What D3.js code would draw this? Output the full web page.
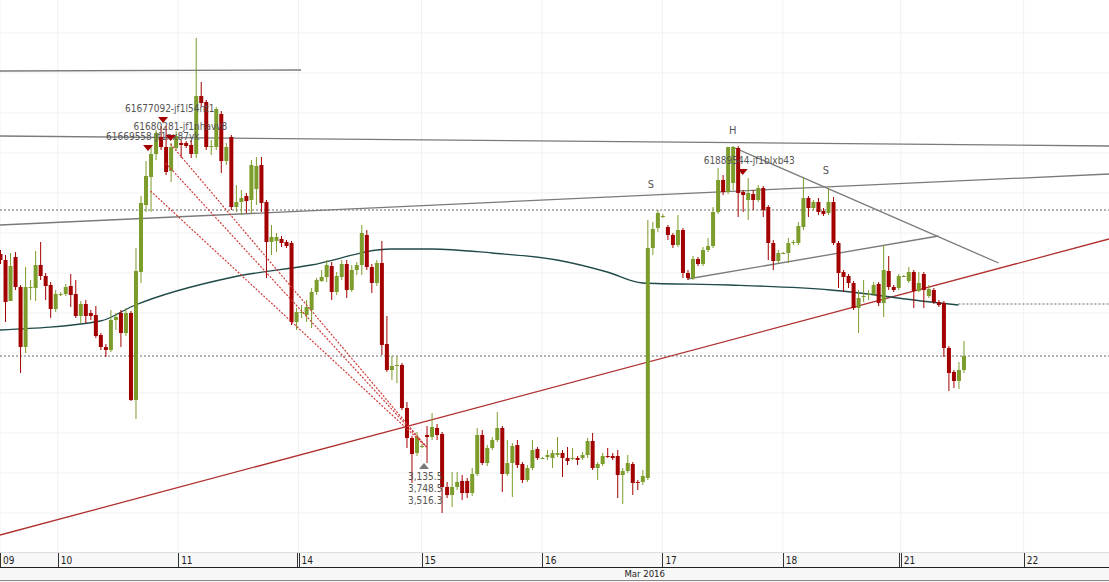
<!DOCTYPE html>
<html>
<head>
<meta charset="utf-8">
<script src="https://cdn.jsdelivr.net/npm/d3@7"></script>
<style>
  body { margin: 0; background: #fff; }
  svg { display: block; font-family: "DejaVu Sans Condensed", "DejaVu Sans", sans-serif; }
</style>
</head>
<body>
<div id="chart"></div>
<script>
// chart level units (inverted price scale), one candle per hour
// [open, close, high, low]
const candles = [
  [254,260,250,264],[260,302,255,322],[301,266,253,301],[257,287,252,290],[287,347,285,373],
  [347,287,267,353],[287,287,280,300],[288,265,251,301],[265,276,242,280],[276,286,273,300],
  [285,309,282,318],[309,294,290,312],[294,294,292,296],[294,287,284,296],[286,295,274,307],
  [294,316,280,318],[316,304,301,323],[304,316,300,323],[313,316,310,320],[315,336,306,338],
  [335,347,333,350],[347,350,344,357],[350,320,310,352],[320,317,313,330],[313,333,310,347],
  [333,313,308,336],[313,400,311,401],[400,271,248,419],[272,203,196,283],[205,176,161,212],
  [177,154,145,212],[154,133,130,160],[137,147,126,150],[147,172,126,175],[171,147,143,182],
  [148,136,131,150],[143,145,140,158],[143,146,141,148],[145,154,140,158],[154,96,38,158],
  [96,103,82,106],[102,147,100,150],[147,146,140,155],[147,109,107,150],[114,161,111,173],
  [161,147,143,165],[137,207,135,210],[207,202,185,212],[202,198,190,215],[196,201,193,213],
  [200,165,160,213],[189,166,157,205],[165,203,157,212],[202,242,200,278],[242,237,225,255],
  [241,237,233,252],[239,243,236,247],[242,246,240,248],[243,322,241,325],[322,312,308,330],
  [312,312,305,318],[315,307,300,322],[310,292,288,328],[292,280,278,295],[281,277,270,282],
  [277,265,260,282],[266,292,262,300],[292,276,272,295],[277,264,260,280],[264,290,260,298],
  [290,270,265,292],[270,265,262,275],[265,233,225,275],[235,267,230,270],[267,283,264,293],
  [283,263,260,286],[263,345,241,355],[344,370,316,372],[370,366,356,380],[366,365,356,383],
  [365,408,363,410],[408,438,402,448],[438,454,436,483],[453,437,432,456],[446,446,444,448],
  [435,437,426,463],[437,427,413,440],[428,435,424,440],[434,487,432,513],[487,495,482,498],
  [495,487,472,507],[487,482,472,490],[481,493,475,500],[481,493,478,498],[493,474,468,496],
  [474,435,428,476],[435,463,430,465],[463,448,445,466],[448,440,437,450],[440,428,412,442],
  [428,474,426,492],[474,463,440,476],[463,446,443,497],[445,465,440,468],[464,480,462,483],
  [480,468,465,482],[468,450,440,470],[449,458,447,460],[458,458,457,459],[457,455,450,460],
  [458,453,450,468],[455,453,437,457],[453,458,450,477],[458,461,447,465],[458,458,448,460],
  [458,460,456,465],[458,455,452,460],[455,441,438,458],[441,468,433,470],[468,464,462,480],
  [464,456,453,466],[456,457,448,458],[456,458,453,460],[456,475,450,498],[475,471,468,504],
  [471,463,455,473],[464,483,462,495],[482,483,480,490],[482,476,470,485],[478,248,220,480],
  [248,229,222,255],[228,213,210,232],[216,216,214,218],[227,235,225,240],[235,245,233,248],
  [245,230,215,247],[230,273,228,278],[273,278,270,280],[278,259,256,280],[259,264,257,266],
  [264,250,247,266],[250,246,238,252],[246,212,207,248],[212,180,168,214],[180,192,175,195],
  [192,147,147,194],[183,147,146,190],[148,193,146,217],[192,195,190,212],[200,193,178,220],
  [194,200,190,210],[200,188,185,202],[188,210,186,217],[207,243,205,260],[243,261,240,270],
  [261,253,250,263],[253,253,252,254],[253,243,238,263],[243,242,240,245],[243,226,222,245],
  [227,198,177,230],[198,208,196,217],[208,202,200,210],[202,212,198,215],[211,214,208,216],
  [213,202,188,215],[202,243,197,245],[243,273,241,288],[272,277,270,292],[276,283,274,288],
  [283,308,281,310],[308,298,290,333],[297,296,280,302],[294,294,290,300],[294,285,282,296],
  [284,303,282,306],[303,270,245,317],[271,287,256,290],[287,290,285,292],[288,276,274,290],
  [276,276,275,277],[281,272,267,283],[272,291,270,308],[291,283,272,292],[274,290,272,308],
  [296,289,285,298],[290,302,288,304],[302,305,300,307],[303,348,301,357],[348,373,346,391],
  [372,381,370,388],[381,370,362,389],[370,356,341,373]
];

// moving average knots [index, level]
const maIdx = [0, 20, 26.5, 46.5, 62, 78, 86, 98, 111, 121, 128, 145.5, 165.5, 185.5, 191];
const maVal = [330, 321, 306, 277, 265, 249, 249, 253, 260, 272, 283, 285, 290, 302, 305];

const dayLabels = ["09", "10", "11", "14", "15", "16", "17", "18", "21", "22"];
const dayIdx = [0, 11.5, 35.5, 59.5, 84, 108, 132, 156, 179.5, 204];
const weekBreaks = [59.5, 179.5];
const monthLabel = "Mar 2016";

// drawn objects: [[idx, level], [idx, level]]
const solidGray = [
  [[0, 71], [60, 70]],
  [[0, 136], [221, 146]],
  [[0, 225], [221, 174]],
  [[146, 147], [199, 263]],
  [[137, 279], [187, 236]]
];
const redTrend = [[0, 535], [221, 239]];
const dottedLevels = [[210, 0, 221], [356, 0, 221], [304, 191, 221]];
const redDotted = [
  [[30, 191], [85, 447]],
  [[33, 163], [85, 447]],
  [[34, 144], [85, 447]]
];
const orderMarks = [
  { i: 29.5, v: 148, label: "61669558-jf1nx87yk", dx: -42 },
  { i: 32.5, v: 120, label: "61677092-jf1l54nt1", dx: -38 },
  { i: 34, v: 138, label: "61680281-jf1nhavv8", dx: -37 },
  { i: 148, v: 172, label: "61889544-jf1blxb43", dx: -39 }
];
const fillMark = { i: 84.5, v: 466, lines: ["3,135.5", "3,748.5", "3,516.3"] };
const patternLabels = [["S", 129.7, 188], ["H", 146, 134], ["S", 164.6, 174]];

const W = 1109, H = 582, plotBottom = 553;
const x = d3.scaleLinear().domain([0, 221]).range([0, 1109]);
const y = d3.scaleLinear().domain([0, 582]).range([0, 582]);
const green = "#7c9c2c", red = "#a30000";

const svg = d3.select("#chart").append("svg").attr("width", W).attr("height", H);

// faint grid
svg.append("g").selectAll("line").data(d3.range(33, 553, 40)).join("line")
  .attr("x1", 0).attr("x2", W).attr("y1", d => y(d)).attr("y2", d => y(d))
  .attr("stroke", "#f1f1f1");
svg.append("g").selectAll("line").data(dayIdx).join("line")
  .attr("x1", d => x(d)).attr("x2", d => x(d)).attr("y1", 0).attr("y2", plotBottom)
  .attr("stroke", "#f1f1f1");

// dotted levels
svg.append("g").selectAll("line").data(dottedLevels).join("line")
  .attr("x1", d => x(d[1])).attr("x2", d => x(d[2]))
  .attr("y1", d => y(d[0])).attr("y2", d => y(d[0]))
  .attr("stroke", "#666").attr("stroke-dasharray", "2,2");

const seg = d3.line().x(d => x(d[0])).y(d => y(d[1]));

svg.append("g").selectAll("path").data(solidGray).join("path")
  .attr("d", seg).attr("stroke", "#7a7a7a").attr("stroke-width", 1.3).attr("fill", "none");

svg.append("path").attr("d", seg(redTrend))
  .attr("stroke", "#b03030").attr("stroke-width", 1.3).attr("fill", "none");

// moving average
svg.append("path")
  .attr("d", d3.line().curve(d3.curveMonotoneX).x(d => x(d)).y((d, k) => y(maVal[k]))(maIdx))
  .attr("stroke", "#1f4a48").attr("stroke-width", 1.3).attr("fill", "none");

// candles
const cg = svg.append("g").selectAll("g").data(candles).join("g");
cg.append("line")
  .attr("x1", (d, i) => x(i) + 0.5).attr("x2", (d, i) => x(i) + 0.5)
  .attr("y1", d => y(d[2])).attr("y2", d => y(d[3]))
  .attr("stroke", d => d[1] > d[0] ? red : green);
cg.append("rect")
  .attr("x", (d, i) => x(i) - 1.5)
  .attr("width", 4)
  .attr("y", d => y(Math.min(d[0], d[1])))
  .attr("height", d => Math.max(1, Math.abs(y(d[1]) - y(d[0]))))
  .attr("fill", d => d[1] > d[0] ? red : green);

// red dotted order lines
svg.append("g").selectAll("path").data(redDotted).join("path")
  .attr("d", seg).attr("stroke", "#d03a3a").attr("stroke-width", 1.2)
  .attr("stroke-dasharray", "2,1.5").attr("fill", "none");

// order markers
const om = svg.append("g").selectAll("g").data(orderMarks).join("g")
  .attr("transform", d => `translate(${x(d.i)},${y(d.v)})`);
om.append("path").attr("d", "M-5,-3L5,-3L0,3Z").attr("fill", "#a30000");
om.append("text").attr("x", d => d.dx).attr("y", -8).text(d => d.label)
  .attr("font-size", 10).attr("fill", "#555");

const fm = svg.append("g").attr("transform", `translate(${x(fillMark.i)},${y(fillMark.v)})`);
fm.append("path").attr("d", "M-5,3L5,3L0,-3Z").attr("fill", "#777");
fm.selectAll("text").data(fillMark.lines).join("text")
  .attr("x", -16).attr("y", (d, k) => 14 + k * 12).text(d => d)
  .attr("font-size", 10).attr("fill", "#555");

svg.append("g").selectAll("text").data(patternLabels).join("text")
  .attr("x", d => x(d[1])).attr("y", d => y(d[2])).attr("text-anchor", "middle")
  .attr("font-size", 11).attr("fill", "#555").text(d => d[0]);

// bottom axis
const ax = svg.append("g");
ax.append("rect").attr("x", 0).attr("y", plotBottom).attr("width", W).attr("height", H - plotBottom).attr("fill", "#f7f7f7");
ax.append("line").attr("x1", 0).attr("x2", W).attr("y1", plotBottom - 0.5).attr("y2", plotBottom - 0.5).attr("stroke", "#ddd");
ax.append("line").attr("x1", 0).attr("x2", W).attr("y1", 567.5).attr("y2", 567.5).attr("stroke", "#222");
ax.append("line").attr("x1", 0).attr("x2", W).attr("y1", 580.5).attr("y2", 580.5).attr("stroke", "#888");
ax.selectAll(".tk").data(dayIdx).join("line").attr("class", "tk")
  .attr("x1", d => Math.round(x(d)) + 0.5).attr("x2", d => Math.round(x(d)) + 0.5)
  .attr("y1", plotBottom).attr("y2", 567).attr("stroke", "#333");
ax.selectAll(".wb").data(weekBreaks).join("line").attr("class", "wb")
  .attr("x1", d => Math.round(x(d)) - 1.5).attr("x2", d => Math.round(x(d)) - 1.5)
  .attr("y1", plotBottom).attr("y2", 567).attr("stroke", "#333");
ax.selectAll(".lb").data(dayLabels).join("text").attr("class", "lb")
  .attr("x", (d, k) => x(dayIdx[k]) + 3).attr("y", 564)
  .attr("font-size", 10).attr("fill", "#222").text(d => d);
ax.append("text").attr("x", x(132) - 38).attr("y", 577).attr("font-size", 9.5).attr("fill", "#222").text(monthLabel);
</script>
</body>
</html>
